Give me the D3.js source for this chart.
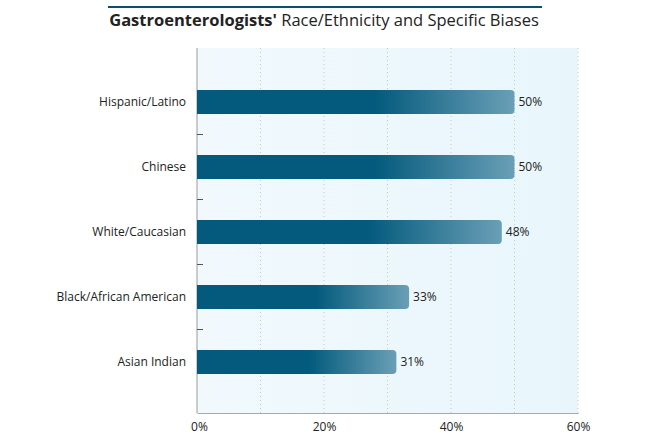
<!DOCTYPE html>
<html>
<head>
<meta charset="utf-8">
<script src="https://cdn.jsdelivr.net/npm/d3@7"></script>
<style>
  body { margin: 0; background: #fff; }
  text { font-family: "Open Sans", "Liberation Sans", sans-serif; }
</style>
</head>
<body>
<div id="chart"></div>
<script>
// chart data (bar lengths as measured; labels are rounded)
const categories = ["Hispanic/Latino", "Chinese", "White/Caucasian", "Black/African American", "Asian Indian"];
const values = [50, 50, 48, 33.4, 31.4];
const xTicks = [0, 20, 40, 60];
const gridTicks = [10, 20, 30, 40, 50, 60];

const width = 645;
const height = 439;
const margin = { top: 48, right: 67, bottom: 26, left: 197 };

const svg = d3.select("#chart")
  .append("svg")
  .attr("width", width)
  .attr("height", height);

const defs = svg.append("defs");

const bg = defs.append("linearGradient").attr("id", "bg");
bg.append("stop").attr("offset", "0%").attr("stop-color", "#f1f9fd");
bg.append("stop").attr("offset", "100%").attr("stop-color", "#e8f6fc");

const barGrad = defs.append("linearGradient").attr("id", "barGrad");
barGrad.append("stop").attr("offset", "0%").attr("stop-color", "#035a7c");
barGrad.append("stop").attr("offset", "56%").attr("stop-color", "#035a7c");
barGrad.append("stop").attr("offset", "100%").attr("stop-color", "#6a9fb6");

const x = d3.scaleLinear()
  .domain([0, 60])
  .range([margin.left, width - margin.right]);

const y = d3.scaleBand()
  .domain(categories)
  .range([69.5, 394.5])
  .paddingInner(0.63)
  .paddingOuter(0.315);

// title with rule above
svg.append("line")
  .attr("x1", 108).attr("x2", 542)
  .attr("y1", 7).attr("y2", 7)
  .attr("stroke", "#0b4f6c")
  .attr("stroke-width", 2);

const title = svg.append("text")
  .attr("x", 324)
  .attr("y", 26)
  .attr("text-anchor", "middle")
  .style("font-size", "16.5px")
  .attr("fill", "#222");
title.append("tspan").style("font-weight", "bold").text("Gastroenterologists'");
title.append("tspan").text(" Race/Ethnicity and Specific Biases");

// plot background
svg.append("rect")
  .attr("x", x(0))
  .attr("y", margin.top)
  .attr("width", x(60) - x(0))
  .attr("height", height - margin.bottom - margin.top)
  .attr("fill", "url(#bg)");

// grid
svg.append("g")
  .selectAll("line")
  .data(gridTicks)
  .join("line")
  .attr("x1", d => x(d)).attr("x2", d => x(d))
  .attr("y1", margin.top).attr("y2", height - margin.bottom)
  .attr("stroke", "#c4c9cc")
  .attr("stroke-dasharray", "1,3");

// x axis
const xAxis = svg.append("g")
  .attr("transform", `translate(0,${height - margin.bottom})`)
  .call(d3.axisBottom(x).tickValues(xTicks).tickSize(0).tickPadding(9).tickFormat(d => d + "%"));
xAxis.select(".domain").attr("stroke", "#aaa");
xAxis.selectAll("text").style("font-size", "12px").attr("fill", "#222");
xAxis.selectAll(".tick").filter(d => d === 0).select("text").attr("dx", 2);

// y axis line
svg.append("line")
  .attr("x1", x(0)).attr("x2", x(0))
  .attr("y1", margin.top).attr("y2", height - margin.bottom)
  .attr("stroke", "#999");

// small separator ticks between categories
const step = y.step();
svg.append("g")
  .selectAll("line")
  .data(categories.slice(1))
  .join("line")
  .attr("x1", x(0)).attr("x2", x(0) + 6)
  .attr("y1", d => y(d) - (step - y.bandwidth()) / 2)
  .attr("y2", d => y(d) - (step - y.bandwidth()) / 2)
  .attr("stroke", "#555");

// category labels
svg.append("g")
  .selectAll("text")
  .data(categories)
  .join("text")
  .attr("x", x(0) - 11)
  .attr("y", d => y(d) + y.bandwidth() / 2)
  .attr("dy", "0.35em")
  .attr("text-anchor", "end")
  .style("font-size", "12px")
  .attr("fill", "#222")
  .text(d => d);

// bars with rounded right end
const r = 4;
function barPath(v, cat) {
  const x0 = x(0), x1 = x(v), y0 = y(cat), h = y.bandwidth();
  return `M${x0},${y0}H${x1 - r}Q${x1},${y0} ${x1},${y0 + r}V${y0 + h - r}Q${x1},${y0 + h} ${x1 - r},${y0 + h}H${x0}Z`;
}

svg.append("g")
  .selectAll("path")
  .data(values)
  .join("path")
  .attr("d", (d, i) => barPath(d, categories[i]))
  .attr("fill", "url(#barGrad)");

// value labels
svg.append("g")
  .selectAll("text")
  .data(values)
  .join("text")
  .attr("x", d => x(d) + 4)
  .attr("y", (d, i) => y(categories[i]) + y.bandwidth() / 2)
  .attr("dy", "0.35em")
  .style("font-size", "12px")
  .attr("fill", "#222")
  .text(d => Math.round(d) + "%");
</script>
</body>
</html>
